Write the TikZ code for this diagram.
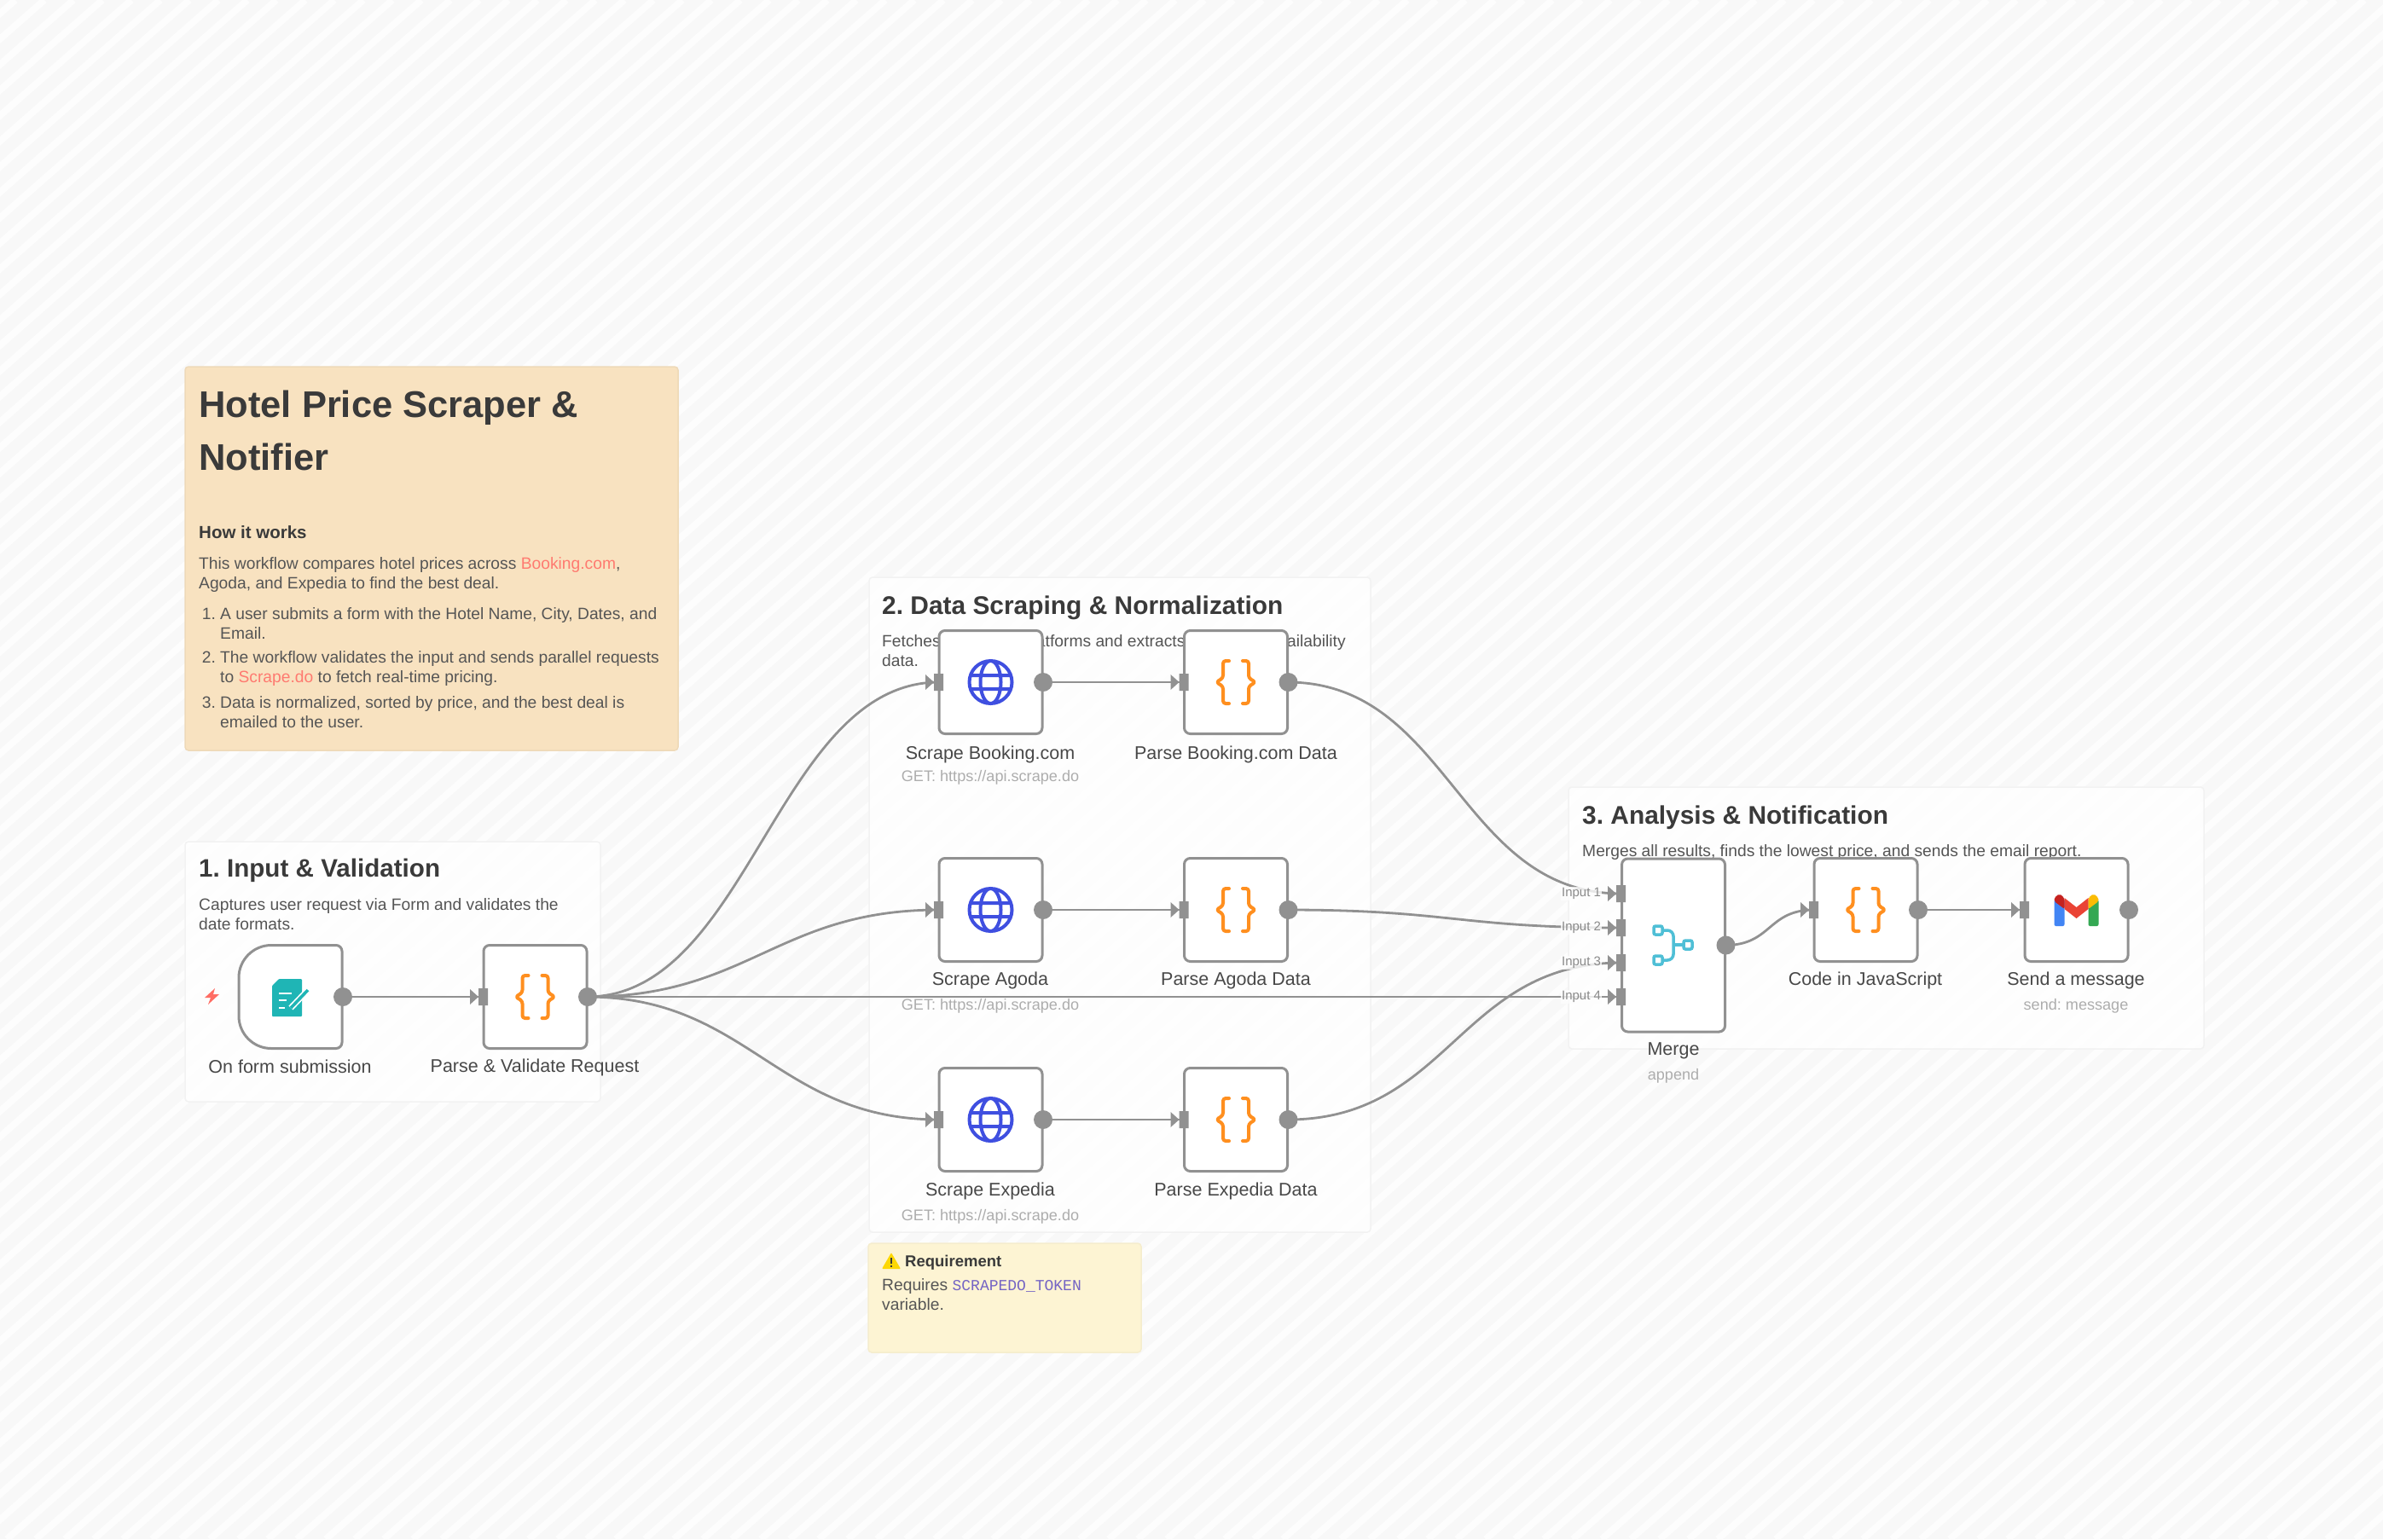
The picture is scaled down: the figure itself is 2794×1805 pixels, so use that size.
\documentclass[tikz,border=0pt]{standalone}
\usepackage{fontspec}
\setmainfont{Liberation Sans}
\newfontfamily\monofnt{Liberation Mono}
\definecolor{stripeA}{HTML}{F8F8F8}
\definecolor{stripeB}{HTML}{FDFDFD}
\definecolor{wireC}{HTML}{919191}
\definecolor{headC}{HTML}{3A3A3A}
\definecolor{bodyC}{HTML}{555555}
\definecolor{subC}{HTML}{ADADAD}
\definecolor{linkC}{HTML}{FF7A70}
\definecolor{tokenC}{HTML}{7464C4}
\definecolor{noteO}{HTML}{F8E2C0}
\definecolor{noteY}{HTML}{FDF4D3}
\definecolor{braceC}{HTML}{FF8F1F}
\definecolor{globeC}{HTML}{3F4FE0}
\definecolor{formC}{HTML}{1FB5B5}
\definecolor{mergeC}{HTML}{4FBFD6}
\definecolor{gBlue}{HTML}{4285F4}
\definecolor{gGreen}{HTML}{34A853}
\definecolor{gRed}{HTML}{EA4335}
\definecolor{gDark}{HTML}{C5221F}
\definecolor{gYellow}{HTML}{FBBC04}
\usetikzlibrary{calc}
\tikzset{
	section/.style={draw=black!5,line width=1.5pt,fill=white,fill opacity=.8,rounded corners=4pt,inner sep=0pt,outer sep=0pt},
	stepbox/.style={draw=wireC,line width=3pt,fill=white,rounded corners=7pt,minimum width=121pt,minimum height=121pt,inner sep=0pt,outer sep=0pt},
	bigtext/.style={anchor=west,align=left,inner sep=0pt,text=headC,font=\bfseries\fontsize{#1}{50}\selectfont},
	bodytext/.style={anchor=west,align=left,inner sep=0pt,text=bodyC,font=\fontsize{19.25}{23}\selectfont},
	labeltext/.style={inner sep=0pt,text=bodyC!85!black,font=\fontsize{21.5}{25}\selectfont},
	subtext/.style={inner sep=0pt,text=subC,font=\fontsize{18.1}{20}\selectfont},
	inlabel/.style={inner sep=1pt,text=subC!80!black,fill=stripeB,fill opacity=.8,text opacity=1,font=\fontsize{15}{18}\selectfont},
	wire/.style={draw=wireC,line width=2.8pt},
	pics/bracesicon/.style={code={
		\draw[braceC,line width=4pt,line cap=round,line join=round,rounded corners=3pt]
		(-8,-25)--(-15,-25)--(-15,-5)--(-23,0)--(-15,5)--(-15,25)--(-8,25)
		(8,-25)--(15,-25)--(15,-5)--(23,0)--(15,5)--(15,25)--(8,25);
	}},
	pics/globeicon/.style={code={
		\draw[globeC,line width=4pt] (0,0) circle (25) (0,0) ellipse (12 and 25) (-23,-8)--(23,-8) (-23,8)--(23,8);
	}}
}
\begin{document}
\frenchspacing
\begin{tikzpicture}[x=1pt,y=-1pt]
	\useasboundingbox (0,0) rectangle (2794,1805);
	\fill[stripeA] (0,0) rectangle (2794,1805);
	\begin{scope}
		\clip (0,0) rectangle (2794,1805);
		\foreach \s in {-2100,-2066,...,2790} \draw[stripeB,line width=8pt] (\s,1805)--(\s+2050,0);
	\end{scope}
	
	\node[section,minimum width=487pt,minimum height=305pt] (secA) at (460.5,1139.5) {};
	\node[section,minimum width=588pt,minimum height=768pt] (secB) at (1313,1061) {};
	\node[section,minimum width=745pt,minimum height=307pt] (secC) at (2211.5,1076.5) {};
	\node[section,fill=noteO,fill opacity=1,draw=noteO!96!black,minimum width=578pt,minimum height=450pt] (noteMain) at (506,655) {};
	\node[section,fill=noteY,fill opacity=1,draw=noteY!97!black,minimum width=320pt,minimum height=128pt] (noteReq) at (1178,1522) {};
	
	\node[bigtext=43.5,font=\bfseries\fontsize{43.5}{62}\selectfont] (mainTitle) at (233,505) {Hotel Price Scraper \&\\Notifier};
	\node[bigtext=20.5] (howTitle) at (233,624) {How it works};
	\node[bodytext] (intro) at (233,674.5) {This workflow compares hotel prices across {\color{linkC}Booking.com},\\Agoda, and Expedia to find the best deal.};
	\node[bodytext] (itemA) at (258,731.5) {\llap{1.\ }A user submits a form with the Hotel Name, City, Dates, and\\Email.};
	\node[bodytext] (itemB) at (258,784.5) {\llap{2.\ }The workflow validates the input and sends parallel requests\\to {\color{linkC}Scrape.do} to fetch real-time pricing.};
	\node[bodytext] (itemC) at (258,835) {\llap{3.\ }Data is normalized, sorted by price, and the best deal is\\emailed to the user.};
	
	\node[bigtext=29.6] (secAtitle) at (233,1021) {1. Input \& Validation};
	\node[bodytext] (secAtext) at (233,1072) {Captures user request via Form and validates the\\date formats.};
	\node[bigtext=29.9] (secBtitle) at (1034,713) {2. Data Scraping \& Normalization};
	\node[bodytext] (secBtext) at (1034,763.5) {Fetches rates from platforms and extracts prices and availability\\data.};
	\node[bigtext=29.9] (secCtitle) at (1855,959) {3. Analysis \& Notification};
	\node[bodytext] (secCtext) at (1855,1000) {Merges all results, finds the lowest price, and sends the email report.};
	
	\node[inner sep=0pt,font=\bfseries\fontsize{18.5}{23}\selectfont,text=headC,anchor=west] (reqTitle) at (1061,1481) {Requirement};
	\node[bodytext] (reqText) at (1034,1518) {Requires {\monofnt\fontsize{18}{23}\selectfont\color{tokenC}SCRAPEDO\_TOKEN}\\variable.};
	
	% nodes of the flow
	\coordinate (inA) at (1901,1048);
	\coordinate (inB) at (1901,1088);
	\coordinate (inC) at (1901,1129);
	\coordinate (inD) at (1901,1169);
	\node[stepbox,draw=none,fill=none] (form) at (340.5,1169) {};
	\node[stepbox] (code) at (627.5,1169) {};
	\node[stepbox] (scrapeB) at (1161.5,800) {};
	\node[stepbox] (parseB) at (1449,800) {};
	\node[stepbox] (scrapeA) at (1161.5,1067) {};
	\node[stepbox] (parseA) at (1449,1067) {};
	\node[stepbox] (scrapeE) at (1161.5,1313) {};
	\node[stepbox] (parseE) at (1449,1313) {};
	\node[stepbox,minimum height=203pt] (merge) at (1962,1108.5) {};
	\node[stepbox] (js) at (2187.5,1067) {};
	\node[stepbox] (gmail) at (2434.5,1067) {};
	
	\draw[wire] (form.east)--(code.west);
	\draw[wire] (code.east) .. controls +(190,0) and +(-190,0) .. (scrapeB.west);
	\draw[wire] (code.east) .. controls +(190,0) and +(-190,0) .. (scrapeA.west);
	\draw[wire] (code.east) .. controls +(190,0) and +(-190,0) .. (scrapeE.west);
	\draw[wire] (code.east)--(inD);
	\foreach \a/\b in {scrapeB/parseB,scrapeA/parseA,scrapeE/parseE,js/gmail} \draw[wire] (\a.east)--(\b.west);
	\draw[wire] (parseB.east) .. controls +(190,0) and +(-190,0) .. (inA);
	\draw[wire] (parseA.east) .. controls +(190,0) and +(-190,0) .. (inB);
	\draw[wire] (parseE.east) .. controls +(190,0) and +(-190,0) .. (inC);
	\draw[wire] (merge.east) .. controls +(55,0) and +(-55,0) .. (js.west);
	
	\draw[wireC,line width=3pt,fill=white,rounded corners=7pt] (form.north east)--(form.south east)[rounded corners=38pt]--(form.south west)--(form.north west)[rounded corners=7pt]--cycle;
	\foreach \x in {code,parseB,parseA,parseE,js} \pic at (\x) {bracesicon};
	\foreach \x in {scrapeB,scrapeA,scrapeE} \pic at (\x) {globeicon};
	\foreach \x in {form,code,scrapeB,parseB,scrapeA,parseA,scrapeE,parseE,merge,js,gmail} \fill[wireC] ($(\x.east)+(1,0)$) circle (11);
	\foreach \x in {code.west,scrapeB.west,parseB.west,scrapeA.west,parseA.west,scrapeE.west,parseE.west,js.west,gmail.west,inA,inB,inC,inD}
		\fill[wireC] ($(\x)+(-6,-10)$) rectangle ($(\x)+(5,10)$) ($(\x)+(-6,0)$)--($(\x)+(-16,-9)$)--($(\x)+(-16,9)$)--cycle;
	
	\node[labeltext] (formLab) at (340,1251) {On form submission};
	\node[labeltext] (codeLab) at (627,1252) {Parse \& Validate Request};
	\foreach \a/\b/\y/\t in {scrapeB/parseB/885/Booking.com,scrapeA/parseA/1150/Agoda,scrapeE/parseE/1397/Expedia}{
		\node[labeltext] (\a Lab) at (1161,\y) {Scrape \t};
		\node[labeltext] (\b Lab) at (1449,\y) {Parse \t{} Data};
	}
	\foreach \a/\y in {scrapeB/912,scrapeA/1180,scrapeE/1427} \node[subtext] (\a Sub) at (1161,\y) {GET: https://api.scrape.do};
	\node[labeltext] (mergeLab) at (1962,1232) {Merge};
	\node[subtext] (mergeSub) at (1962,1262) {append};
	\node[labeltext] (jsLab) at (2187,1150) {Code in JavaScript};
	\node[labeltext] (gmailLab) at (2434,1150) {Send a message};
	\node[subtext] (gmailSub) at (2434,1180) {send: message};
	\foreach \x/\n in {inA/1,inB/2,inC/3,inD/4} \node[inlabel] (lab\x) at ($(\x)+(-47,0)$) {Input \n};
	
	% small icons
	\fill[linkC!90!red,line join=round] (252,1159)--(240,1170)--(247,1170)--(244,1178)--(257,1166)--(250,1166)--cycle;
	\fill[formC,rounded corners=1pt] (327,1148)--(354,1148)--(354,1192)--(319,1192)--(319,1156)--cycle;
	\draw[white,line width=2.4pt] (327,1165)--(342,1165) (327,1173)--(336,1173) (327,1182)--(334,1182);
	\draw[white,line width=7pt] (341,1182)--(361,1161);
	\draw[formC,line width=3.6pt] (341,1182)--(361,1161);
	\draw[mergeC,line width=3.5pt,rounded corners=2pt] (1939,1086) rectangle (1949,1096) (1939,1121) rectangle (1949,1131) (1974,1103) rectangle (1984,1113);
	\draw[mergeC,line width=3.5pt,rounded corners=7pt] (1949,1091)--(1962,1091)--(1962,1126)--(1949,1126);
	\draw[mergeC,line width=3.5pt] (1962,1108)--(1974,1108);
	
	\begin{scope}[shift={(gmail)}]
		\fill[gBlue,rounded corners=2pt] (-26,-12) rectangle (-14,19);
		\fill[gGreen,rounded corners=2pt] (14,-12) rectangle (26,19);
		\fill[gRed] (-14,-14)--(0,-3)--(14,-14)--(14,-1)--(0,10)--(-14,-1)--cycle;
		\fill[gDark,rounded corners=2pt] (-26,-14)--(-20,-19)--(-14,-14)--(-14,-1)--(-26,-10)--cycle;
		\fill[gYellow,rounded corners=2pt] (14,-14)--(20,-19)--(26,-14)--(26,-10)--(14,-1)--cycle;
	\end{scope}
	
	\fill[yellow!75!orange,rounded corners=1pt] (1045,1469)--(1056,1488)--(1034,1488)--cycle;
	\draw[headC,line width=2pt] (1045,1475)--(1045,1482) (1045,1484)--(1045,1486);
\end{tikzpicture}
\end{document}
